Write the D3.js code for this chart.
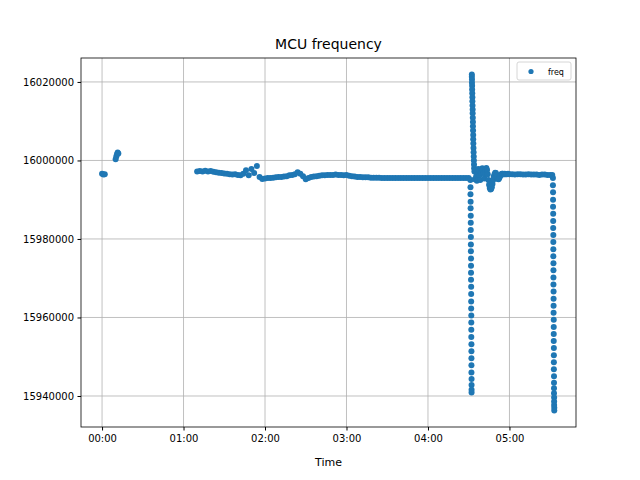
<!DOCTYPE html>
<html>
<head>
<meta charset="utf-8">
<script src="https://cdn.jsdelivr.net/npm/d3@7"></script>
<style>
  body { margin: 0; background: #fff; }
  text { font-family: "DejaVu Sans", sans-serif; }
</style>
</head>
<body>
<script>
// time in minutes since 00:00, frequency in Hz
var startTimes = [0, 1, 2, 10, 10.5, 11, 11.5, 12];
var startFreqs = [15996600, 15996400, 15996500, 16000300, 16001000, 16001600, 16002000, 16001800];

var mainTimes = [70, 72, 74, 76, 78, 80, 82, 84, 86, 88, 90, 92, 94, 96, 98, 100, 102, 104, 106, 108,
  110, 112, 114, 116, 118, 120, 122, 124, 126, 128, 130, 132, 134, 136, 138, 140, 142, 144, 146, 148,
  150, 152, 154, 156, 158, 160, 162, 164, 166, 168, 170, 172, 174, 176, 178, 180, 182, 184, 186, 188,
  190, 192, 194, 196, 198, 200, 202, 204, 206, 208, 210, 212, 214, 216, 218, 220, 222, 224, 226, 228,
  230, 232, 234, 236, 238, 240, 242, 244, 246, 248, 250, 252, 254, 256, 258, 260, 262, 264, 266, 268, 270];
var mainFreqs = [15997200, 15997300, 15997200, 15997400, 15997200, 15997300, 15997100, 15997000, 15996900, 15996800,
  15996700, 15996600, 15996500, 15996400, 15996500, 15996300, 15996200, 15996600, 15997500, 15996200,
  15997800, 15996800, 15998600, 15995800, 15995300, 15995400, 15995500, 15995500, 15995600, 15995700,
  15995800, 15995800, 15995900, 15996000, 15996200, 15996300, 15996500, 15997000, 15996600, 15996000,
  15995200, 15995500, 15995800, 15995900, 15996000, 15996100, 15996200, 15996200, 15996300, 15996300,
  15996300, 15996400, 15996300, 15996300, 15996200, 15996300, 15996100, 15996000, 15995900, 15995800,
  15995800, 15995700, 15995700, 15995700, 15995600, 15995600, 15995600, 15995600, 15995500, 15995500,
  15995500, 15995500, 15995500, 15995500, 15995500, 15995500, 15995500, 15995500, 15995500, 15995500,
  15995500, 15995500, 15995500, 15995500, 15995500, 15995500, 15995500, 15995500, 15995500, 15995500,
  15995500, 15995500, 15995500, 15995500, 15995500, 15995500, 15995500, 15995500, 15995500, 15995500, 15995500];

var dropOneTimes = [271.2, 271.3, 271.3, 271.4, 271.4, 271.5, 271.5, 271.5, 271.6, 271.6, 271.6, 271.7, 271.7, 271.7, 271.7, 271.8,
  271.8, 271.8, 271.8, 271.9, 271.9, 271.9, 271.9, 272.0, 272.0, 272.0, 272.0, 272.0, 272.1, 272.1, 272.1, 272.1];
var dropOneFreqs = [15995000, 15993200, 15991400, 15989500, 15987800, 15985900, 15984100, 15982300, 15980500, 15978600,
  15976900, 15975000, 15973200, 15971400, 15969600, 15967800, 15966000, 15964100, 15962300, 15960500, 15958700,
  15956900, 15955000, 15953200, 15951400, 15949600, 15947800, 15946000, 15944300, 15942800, 15941600, 15940900];

var spikeTimes = [272.3, 272.3, 272.4, 272.4, 272.5, 272.5, 272.6, 272.7, 272.7, 272.8, 272.9, 272.9, 273.0, 273.1, 273.1,
  273.2, 273.3, 273.3, 273.4, 273.5, 273.6, 273.7, 273.8, 273.9, 274.0, 274.2];
var spikeFreqs = [16021900, 16021300, 16020600, 16019800, 16019000, 16018100, 16017100, 16016100, 16015100, 16014000,
  16013000, 16012000, 16010900, 16009800, 16008700, 16007600, 16006500, 16005400, 16004300, 16003200, 16002100,
  16001000, 16000000, 15999000, 15998000, 15997200];

var settleTimes = [274.5, 275, 275.5, 276, 276.5, 277, 277.5, 278, 278.5, 279, 279.5, 280, 280.5, 281, 281.5, 282, 282.5,
  283, 283.5, 284, 284.5, 285, 285.5, 286, 286.5, 287, 287.5, 288, 288.5, 289, 289.5, 290, 290.5, 291, 291.5,
  292, 292.5, 293, 293.5, 294, 294.5, 295, 295.5, 296, 296.5, 297, 298, 299, 300, 302, 304, 306, 308, 310,
  312, 314, 316, 318, 320, 322, 324, 326, 328, 330, 331.5];
var settleFreqs = [15995200, 15997600, 15996000, 15994800, 15997300, 15997800, 15997400, 15996200, 15995000, 15996800,
  15997800, 15998000, 15997600, 15996800, 15995400, 15996600, 15997700, 15998100, 15997600, 15996500, 15995000,
  15993800, 15993000, 15992600, 15992700, 15993200, 15994000, 15995000, 15995900, 15996500, 15996900, 15996800,
  15996300, 15995700, 15995300, 15995200, 15995500, 15995900, 15996200, 15996500, 15996600, 15996600, 15996500,
  15996500, 15996600, 15996500, 15996500, 15996600, 15996500, 15996500, 15996400, 15996500, 15996500, 15996400,
  15996400, 15996500, 15996400, 15996400, 15996400, 15996300, 15996400, 15996400, 15996300, 15996300, 15996300];

var dropTwoTimes = [332.0, 332.0, 332.1, 332.1, 332.1, 332.2, 332.2, 332.2, 332.3, 332.3, 332.3, 332.3, 332.4, 332.4, 332.4,
  332.4, 332.5, 332.5, 332.5, 332.5, 332.6, 332.6, 332.6, 332.6, 332.7, 332.7, 332.7, 332.7, 332.8, 332.8, 332.8,
  332.8, 332.9, 332.9, 332.9, 333.0, 333.0];
var dropTwoFreqs = [15995500, 15993700, 15991900, 15990000, 15988200, 15986400, 15984600, 15982800, 15981000, 15979200,
  15977400, 15975600, 15973800, 15972000, 15970200, 15968400, 15966600, 15964800, 15963000, 15961200, 15959400,
  15957600, 15955800, 15954000, 15952200, 15950400, 15948600, 15946800, 15945000, 15943400, 15942000, 15940700,
  15939600, 15938600, 15937700, 15937000, 15936300];

var yTicks = [15940000, 15960000, 15980000, 16000000, 16020000];
var xTicks = [0, 60, 120, 180, 240, 300];
var xTickLabels = ["00:00", "01:00", "02:00", "03:00", "04:00", "05:00"];

var margin = {top: 58, right: 64, bottom: 53, left: 81};
var width = 640 - margin.left - margin.right;
var height = 480 - margin.top - margin.bottom;
var color = "#1f77b4";

var points = [];
[[startTimes, startFreqs], [mainTimes, mainFreqs], [dropOneTimes, dropOneFreqs], [spikeTimes, spikeFreqs],
 [settleTimes, settleFreqs], [dropTwoTimes, dropTwoFreqs]].forEach((s) => {
  s[0].forEach((t, i) => { points.push({t: t, f: s[1][i]}); });
});

var svg = d3.select("body").append("svg")
  .attr("width", 640).attr("height", 480);
var g = svg.append("g")
  .attr("transform", "translate(" + margin.left + "," + margin.top + ")");

var x = d3.scaleLinear().domain([-15.5, 349]).range([0, width]);
var y = d3.scaleLinear().domain([15932100, 16026100]).range([height, 0]);

// grid
g.selectAll(".xg").data(xTicks).enter().append("line")
  .attr("x1", (d) => x(d)).attr("x2", (d) => x(d))
  .attr("y1", 0).attr("y2", height)
  .attr("stroke", "#b0b0b0").attr("stroke-width", 0.8);
g.selectAll(".yg").data(yTicks).enter().append("line")
  .attr("x1", 0).attr("x2", width)
  .attr("y1", (d) => y(d)).attr("y2", (d) => y(d))
  .attr("stroke", "#b0b0b0").attr("stroke-width", 0.8);

g.selectAll("circle").data(points).enter().append("circle")
  .attr("cx", (d) => x(d.t))
  .attr("cy", (d) => y(d.f))
  .attr("r", 3)
  .attr("fill", color);

var bottomAxis = d3.axisBottom(x).tickValues(xTicks)
  .tickFormat((d, i) => xTickLabels[i]).tickSize(3.5).tickPadding(4);
g.append("g").attr("transform", "translate(0," + height + ")").call(bottomAxis)
  .call((a) => a.select(".domain").remove())
  .selectAll("text").attr("font-size", "10px").attr("fill", "#000");

var leftAxis = d3.axisLeft(y).tickValues(yTicks)
  .tickFormat((d) => d).tickSize(3.5).tickPadding(3.5);
g.append("g").call(leftAxis)
  .call((a) => a.select(".domain").remove())
  .selectAll("text").attr("font-size", "10px").attr("fill", "#000");

g.append("rect").attr("width", width).attr("height", height)
  .attr("fill", "none").attr("stroke", "#000").attr("stroke-width", 0.8);

svg.append("text").attr("x", margin.left + width / 2).attr("y", 49)
  .attr("text-anchor", "middle").attr("font-size", "14px").text("MCU frequency");
svg.append("text").attr("x", margin.left + width / 2).attr("y", 466)
  .attr("text-anchor", "middle").attr("font-size", "11px").text("Time");

// legend
var lg = svg.append("g").attr("transform", "translate(517,62)");
lg.append("rect").attr("width", 54).attr("height", 18).attr("rx", 2)
  .attr("fill", "#fff").attr("fill-opacity", 0.8).attr("stroke", "#ccc").attr("stroke-width", 0.8);
lg.append("circle").attr("cx", 14).attr("cy", 9.5).attr("r", 2.6).attr("fill", color);
lg.append("text").attr("x", 31).attr("y", 12.5).attr("font-size", "8px").text("freq");
</script>
</body>
</html>
